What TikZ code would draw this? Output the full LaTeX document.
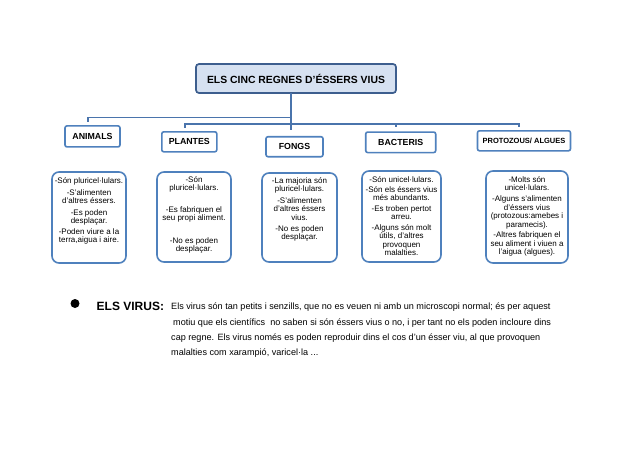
\documentclass[tikz,border=0pt]{standalone}
\usepackage{fontspec}
\setmainfont{Liberation Sans}
\definecolor{titlefill}{HTML}{D6E1F1}
\definecolor{titleborder}{HTML}{3D5E8E}
\definecolor{linecol}{HTML}{4A74AC}
\definecolor{boxblue}{HTML}{4F81BD}
\begin{document}
\begin{tikzpicture}[x=1pt,y=-1pt,
  conn/.style={draw=linecol, line width=1.8pt},
  titlebox/.style={draw=titleborder, fill=titlefill, rounded corners=3pt, line width=1.7pt, inner sep=0pt,
    font=\fontsize{10.4}{12}\selectfont\bfseries},
  catbox/.style={draw=boxblue, fill=white, rounded corners=2pt, line width=1.6pt, inner sep=0pt,
    font=\fontsize{8.8}{10}\selectfont\bfseries},
  infobox/.style={draw=boxblue, fill=white, rounded corners=7pt, line width=1.6pt, inner sep=0pt},
  infotext/.style={anchor=north, align=center, inner sep=0pt, font=\fontsize{8}{8.4}\selectfont}]
\useasboundingbox[fill=white] (0,0) rectangle (638,451);

% title
\node[titlebox, minimum width=200pt, minimum height=29pt] (title) at (296,78.5) {ELS CINC REGNES D'ÉSSERS VIUS};

% category boxes
\node[catbox, minimum width=55pt, minimum height=21pt] (animals) at (92.5,136.4) {ANIMALS};
\node[catbox, minimum width=55pt, minimum height=20pt] (plantes) at (189.3,141.8) {PLANTES};
\node[catbox, minimum width=57pt, minimum height=20pt] (fongs) at (294.5,146.7) {FONGS};
\node[catbox, minimum width=70pt, minimum height=20.5pt] (bacteris) at (400.7,142.3) {BACTERIS};
\node[catbox, minimum width=93pt, minimum height=20pt, font=\fontsize{7.5}{9}\selectfont\bfseries] (protozous) at (524,140.8) {PROTOZOUS/ ALGUES};

% connector coordinates
\coordinate (trunktop) at (290.7,93);
\coordinate (trunkend) at (290.7,130);
\coordinate (upmid) at (290.7,117.5);
\coordinate (upA) at (87.7,117.5);
\coordinate (dropA) at (87.7,121.5);
\coordinate (lowP) at (184.7,124);
\coordinate (dropP) at (184.7,127.5);
\coordinate (lowB) at (395.7,124);
\coordinate (dropB) at (395.7,127);
\coordinate (lowZ) at (519.3,124);
\coordinate (dropZ) at (519.3,127);

\draw[conn] (trunktop) -- (trunkend);
\draw[conn] (dropA) -- (upA) -- (upmid);
\draw[conn] (dropP) -- (lowP) -- (lowZ) -- (dropZ);
\draw[conn] (lowB) -- (dropB);

% info boxes
\node[infobox, minimum width=74pt, minimum height=91pt] (b1) at (89,217.5) {};
\node[infobox, minimum width=74pt, minimum height=90pt] (b2) at (194,217) {};
\node[infobox, minimum width=75pt, minimum height=89pt] (b3) at (299.5,217.5) {};
\node[infobox, minimum width=79pt, minimum height=91pt] (b4) at (401.5,216.5) {};
\node[infobox, minimum width=82pt, minimum height=92pt] (b5) at (527,217) {};

\node[infotext] (t1) at (89,177.5) {-Són pluricel·lulars.\\[3.5pt]-S'alimenten\\d'altres éssers.\\[3pt]-Es poden\\desplaçar.\\[2.5pt]-Poden viure a la\\terra,aigua i aire.};
\node[infotext] (t2) at (194,176.5) {-Són\\pluricel·lulars.\\[13pt]-Es fabriquen el\\seu propi aliment.\\[14pt]-No es poden\\desplaçar.};
\node[infotext] (t3) at (299.5,177.5) {-La majoria són\\pluricel·lulars.\\[3pt]-S'alimenten\\d'altres éssers\\vius.\\[3pt]-No es poden\\desplaçar.};
\node[infotext] (t4) at (401.5,176.5) {-Són unicel·lulars.\\[1.5pt]-Són els éssers vius\\més abundants.\\[2pt]-Es troben pertot\\arreu.\\[2.5pt]-Alguns són molt\\útils, d'altres\\provoquen\\malalties.};
\node[infotext] (t5) at (527,176.5) {-Molts són\\unicel·lulars.\\[2.5pt]-Alguns s'alimenten\\d'éssers vius\\(protozous:amebes i\\paramecis).\\[2.5pt]-Altres fabriquen el\\seu aliment i viuen a\\l'aigua (algues).};

% virus paragraph
\node[circle, fill=black, minimum size=9pt, inner sep=0pt] (bullet) at (75,303.5) {};
\node[anchor=base west, inner sep=0pt, font=\fontsize{12}{14}\selectfont\bfseries] (virushead) at (96.5,310) {ELS VIRUS:};
\node[anchor=north west, align=left, inner sep=0pt, font=\fontsize{9.1}{15.3}\selectfont] (virustext) at (171,303) {Els virus són tan petits i senzills, que no es veuen ni amb un microscopi normal; és per aquest\\
\hspace{2pt}motiu que els científics\ \ no saben si són éssers vius o no, i per tant no els poden incloure dins\\
cap regne. Els virus només es poden reproduir dins el cos d’un ésser viu, al que provoquen\\
malalties com xarampió, varicel·la ...};
\end{tikzpicture}
\end{document}
